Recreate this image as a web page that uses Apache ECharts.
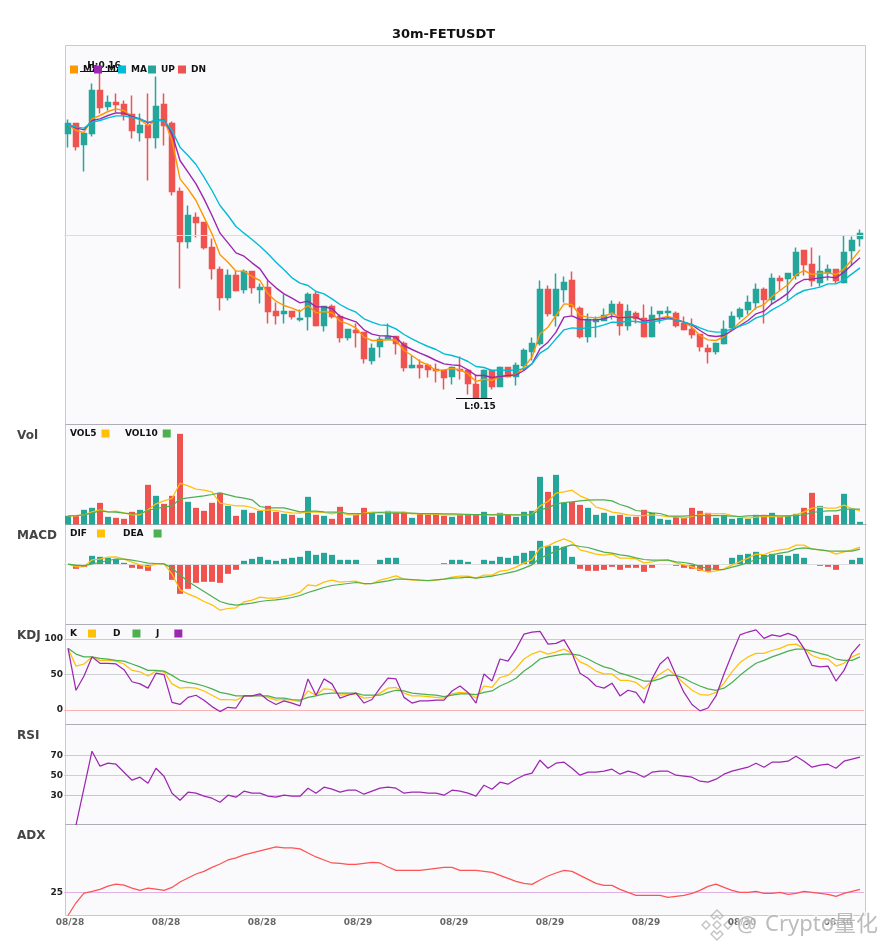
<!DOCTYPE html>
<html><head><meta charset="utf-8"><style>html,body{margin:0;padding:0;background:#fff}#c{width:885px;height:950px}</style>
<script src="https://cdn.jsdelivr.net/npm/echarts@6/dist/echarts.min.js"></script></head><body><div id="c"></div>
<script>
// prices in 1e-5 USDT
const opens=[15806,15836,15773,15806,15935,15887,15899,15893,15863,15809,15830,15794,15893,15836,15632,15482,15554,15539,15464,15398,15314,15380,15338,15392,15338,15344,15272,15266,15272,15248,15257,15323,15230,15287,15257,15194,15215,15209,15125,15167,15188,15197,15176,15104,15110,15110,15098,15095,15077,15098,15095,15053,15014,15095,15047,15104,15077,15110,15152,15176,15338,15260,15338,15365,15281,15197,15242,15245,15266,15293,15230,15266,15251,15197,15266,15269,15266,15236,15218,15203,15161,15152,15176,15224,15257,15278,15299,15338,15308,15371,15371,15380,15455,15413,15359,15389,15398,15359,15455,15491];
const closes=[15836,15767,15806,15935,15884,15899,15893,15863,15815,15830,15794,15887,15830,15632,15482,15560,15539,15464,15401,15314,15380,15335,15392,15344,15344,15272,15260,15272,15257,15251,15323,15230,15287,15257,15194,15218,15209,15131,15161,15188,15197,15176,15104,15110,15104,15098,15095,15074,15104,15095,15056,15014,15095,15047,15104,15077,15110,15155,15176,15338,15266,15338,15359,15287,15197,15248,15248,15260,15293,15230,15272,15251,15197,15260,15272,15272,15230,15218,15203,15167,15152,15176,15218,15257,15278,15299,15338,15308,15371,15365,15386,15449,15413,15365,15392,15398,15365,15449,15485,15506];
const highs=[15848,15836,15806,15956,15992,15920,15926,15905,15920,15866,15926,15977,15926,15842,15644,15590,15569,15539,15491,15407,15398,15395,15398,15392,15356,15365,15299,15323,15272,15278,15329,15332,15287,15293,15263,15218,15236,15209,15176,15197,15236,15197,15182,15140,15128,15116,15116,15095,15107,15137,15095,15083,15098,15098,15107,15104,15119,15161,15194,15365,15350,15386,15377,15392,15287,15266,15257,15281,15305,15302,15293,15272,15293,15287,15272,15287,15272,15257,15251,15203,15173,15179,15245,15272,15284,15320,15356,15344,15386,15380,15386,15464,15455,15464,15440,15413,15398,15500,15497,15518];
const lows=[15764,15755,15692,15797,15866,15875,15869,15845,15791,15782,15665,15761,15770,15620,15341,15461,15494,15458,15368,15275,15305,15332,15326,15326,15296,15236,15233,15236,15248,15242,15215,15227,15212,15251,15179,15185,15164,15116,15113,15134,15188,15143,15092,15101,15071,15074,15059,15038,15053,15068,15023,15011,15011,15038,15047,15074,15050,15095,15125,15170,15257,15227,15299,15260,15191,15179,15194,15245,15248,15200,15215,15236,15194,15194,15236,15254,15224,15215,15191,15152,15116,15143,15173,15221,15248,15263,15278,15236,15293,15335,15305,15368,15380,15347,15347,15365,15356,15356,15410,15467];
const ma5=[15833,15815,15809,15850,15860,15872,15880,15875,15857,15847,15830,15845,15847,15785,15670,15640,15605,15555,15505,15442,15420,15393,15393,15377,15365,15325,15303,15290,15282,15272,15290,15268,15272,15268,15243,15235,15223,15195,15185,15185,15188,15185,15155,15140,15122,15112,15095,15097,15101,15097,15085,15062,15069,15065,15077,15079,15083,15105,15135,15205,15225,15260,15295,15293,15260,15255,15253,15257,15268,15253,15255,15255,15243,15247,15253,15257,15250,15240,15225,15200,15187,15185,15197,15217,15240,15260,15283,15293,15317,15335,15353,15382,15395,15383,15387,15388,15383,15400,15427,15457];
const ma10=[15833,15823,15817,15845,15850,15860,15868,15867,15857,15850,15838,15845,15847,15805,15725,15690,15655,15610,15560,15507,15478,15448,15438,15418,15400,15365,15343,15325,15312,15298,15303,15286,15286,15281,15257,15249,15241,15217,15204,15199,15199,15195,15170,15158,15147,15137,15125,15115,15112,15110,15097,15080,15080,15074,15077,15080,15082,15095,15115,15160,15180,15210,15255,15259,15248,15247,15247,15250,15258,15253,15255,15255,15243,15247,15250,15253,15247,15240,15232,15215,15200,15197,15200,15215,15230,15245,15265,15273,15295,15310,15327,15355,15368,15369,15373,15376,15373,15390,15412,15433];
const ma20=[15833,15825,15822,15840,15845,15853,15859,15859,15854,15849,15840,15845,15845,15815,15765,15740,15713,15675,15635,15590,15560,15527,15507,15488,15468,15445,15420,15397,15373,15357,15350,15332,15325,15310,15293,15280,15270,15250,15240,15232,15230,15220,15203,15190,15178,15167,15158,15145,15140,15133,15122,15107,15104,15095,15097,15095,15097,15100,15115,15147,15162,15190,15217,15223,15221,15223,15225,15232,15240,15239,15243,15242,15239,15241,15245,15250,15247,15240,15233,15223,15214,15210,15211,15220,15228,15237,15253,15260,15277,15290,15305,15323,15335,15340,15345,15355,15355,15367,15385,15403];
const volumes=[26,26,44,50,65,23,20,17,38,44,119,86,62,86,272,68,50,41,65,95,56,26,44,35,41,56,38,32,29,20,83,29,26,17,53,20,29,50,35,29,41,35,38,20,32,29,29,26,23,29,32,29,38,23,35,29,23,38,41,143,98,149,65,68,59,50,29,35,26,29,23,23,44,35,17,14,23,20,50,41,35,20,29,17,20,17,29,29,35,23,26,32,50,95,56,26,29,92,47,8];
const vol5=[26,26,29,38,44,38,40,35,29,29,44,62,71,78,124,116,106,103,98,64,60,56,56,51,42,44,42,38,35,34,38,37,36,32,38,29,29,34,37,37,38,38,37,32,32,31,30,29,29,29,30,30,30,30,31,30,29,29,30,56,69,94,98,103,86,76,52,46,37,34,29,27,27,29,27,23,23,19,24,30,33,32,33,27,22,19,22,24,24,23,26,29,38,49,52,49,49,58,48,41];
const vol10=[26,27,29,34,41,38,37,34,32,33,42,48,52,56,76,80,83,86,90,95,89,83,79,74,54,50,50,50,44,38,40,40,38,37,37,33,33,33,34,36,34,35,34,34,33,33,33,32,32,31,30,30,30,29,29,29,29,29,30,44,50,62,66,68,71,73,74,74,71,60,53,42,39,35,33,26,25,25,27,27,27,27,26,25,24,26,27,27,27,26,26,27,29,36,39,41,41,46,46,46];
const macdHist=[-1,-14,-8,25,22,19,16,4,-11,-14,-20,1,0,-47,-89,-74,-56,-53,-53,-56,-29,-17,10,16,22,13,10,16,19,22,40,28,34,28,13,13,13,-2,0,13,19,19,0,-2,0,0,0,3,13,13,7,-2,13,10,22,19,25,34,40,70,55,55,52,22,-14,-20,-20,-17,-8,-17,-11,-11,-23,-11,-2,0,-5,-11,-14,-20,-23,-17,0,19,28,31,37,28,31,28,25,31,19,-2,-5,-8,-17,0,13,19];
const dif=[0,-8,-8,13,15,21,22,15,6,-2,-8,1,1,-29,-77,-89,-99,-112,-122,-138,-133,-131,-113,-108,-99,-102,-102,-97,-92,-84,-62,-65,-54,-48,-54,-52,-51,-59,-58,-48,-42,-35,-45,-48,-48,-50,-48,-45,-39,-36,-36,-42,-33,-33,-21,-18,-9,4,13,49,55,67,76,66,43,37,30,27,30,18,18,16,4,7,11,13,4,-2,-8,-17,-24,-20,-14,-2,8,18,30,29,38,43,46,57,57,45,43,40,30,37,43,51];
const dea=[0,-3,-5,1,5,11,15,15,12,8,3,2,1,-12,-32,-52,-67,-82,-97,-112,-119,-123,-120,-117,-112,-109,-107,-104,-100,-94,-85,-78,-70,-64,-61,-58,-55,-58,-58,-54,-50,-45,-45,-46,-48,-49,-47,-45,-42,-41,-39,-42,-39,-36,-31,-26,-21,-12,-2,18,28,40,51,58,53,50,43,36,33,28,25,19,14,12,12,12,7,5,1,-7,-13,-16,-16,-9,-3,5,14,21,28,33,37,46,49,46,43,40,39,39,39,45];
const kLine=[87,62,65,75,70,70,69,65,56,54,48,55,54,37,31,32,31,27,21,15,15,14,20,20,21,18,14,15,14,12,27,21,30,29,21,22,23,17,18,24,31,32,24,20,20,19,18,17,23,25,24,17,34,32,46,49,59,72,79,83,79,82,86,80,68,63,55,51,51,42,42,39,30,42,51,58,48,38,28,22,21,25,38,54,67,75,80,80,84,87,92,93,87,77,73,72,62,66,75,80];
const dLine=[87,79,75,75,73,72,70,69,65,61,56,56,55,49,42,39,37,34,30,25,23,20,20,20,20,20,17,17,15,14,18,20,23,24,24,24,24,21,21,21,25,28,27,24,23,22,21,19,21,23,23,22,25,27,34,39,45,55,63,72,75,77,79,79,77,72,66,61,58,52,49,45,41,41,44,49,49,45,39,34,30,28,31,39,49,58,66,70,75,79,83,86,86,83,80,77,72,70,70,75];
const jLine=[87,28,48,75,66,66,65,57,40,37,31,52,50,11,8,18,21,14,5,-2,4,3,20,20,23,14,8,13,10,6,44,21,44,37,17,21,24,10,15,31,45,44,18,10,13,13,14,14,27,34,25,10,51,41,72,69,86,107,110,111,93,94,99,80,52,45,34,31,38,20,28,25,10,44,65,75,49,25,8,-1,3,20,51,79,106,110,113,101,106,104,108,104,87,63,61,62,41,56,80,93];
const rsi=[null,0,37,74,59,62,61,53,45,48,42,57,49,32,25,33,32,29,27,23,30,28,34,32,32,29,28,30,29,29,37,32,38,36,33,35,35,31,34,37,38,37,32,33,33,32,32,30,35,34,32,29,40,36,43,41,46,50,52,65,57,62,63,57,50,53,53,54,56,51,54,52,48,53,54,54,50,49,48,44,43,46,51,54,56,58,62,58,63,63,64,69,64,58,60,61,57,64,66,68];
const adx=[11.2,18.8,24.6,25.6,26.8,28.8,30,29.4,27.6,26.2,27.6,27,26.2,28,31.2,33.6,36,37.6,40,42,44.4,45.6,47.4,48.6,49.8,51,52.2,51.6,51.6,51,48.6,46.2,44.4,42.6,42.4,41.8,41.8,42.4,43,42.6,40.2,38.2,38.2,38.2,38.2,38.8,39.4,40,40,38.2,38.2,38.2,37.6,37,35.2,33.4,31.6,30.4,29.8,32.4,34.8,36.6,38.2,37.6,35.2,32.8,30.4,29.2,29.2,26.8,25,23.2,23.2,23.2,23.2,22,22.6,23.2,24.4,26.2,28.6,30,28,26.2,25,25,25.6,24.4,24.4,25,23.8,24.4,25.6,25,24.4,23.8,22.6,24.4,25.6,26.8];
const tickLabels=['08/28','08/28','08/28','08/29','08/29','08/29','08/29','08/30','08/30'];
const priceGridLevels=[0.155];

const categories=opens.map((_,i)=>tickLabels[Math.floor(i/12)]);
const UP='#26a69a',DN='#ef5350';
const FONT='"DejaVu Sans"';
const px=v=>v/1e5;
const candle=opens.map((o,i)=>[px(o),px(closes[i]),px(lows[i]),px(highs[i])]);
const hiIdx=highs.indexOf(Math.max(...highs)), loIdx=lows.indexOf(Math.min(...lows));

const panels=[
 {name:'',top:45.5,h:379,min:0.14933,max:0.1607},
 {name:'Vol',top:424.5,h:100,min:0,max:300},
 {name:'MACD',top:524.5,h:100,min:-181,max:119},
 {name:'KDJ',top:624.5,h:100,min:-20.2,max:120.6,labels:[0,50,100]},
 {name:'RSI',top:724.5,h:100,min:0.7,max:100.7,labels:[30,50,70]},
 {name:'ADX',top:824.5,h:91,min:11.2,max:65.6,labels:[25]}
];
const L=64,W=800;
const grid=panels.map(p=>({left:L,width:W,top:p.top,height:p.h,show:false}));
const xAxis=panels.map((p,i)=>({type:'category',gridIndex:i,data:categories,
  axisLine:{show:false},axisTick:{show:false},splitLine:{show:false},
  axisLabel:i===5?{show:true,interval:11,color:'#666',fontFamily:FONT,fontSize:9,fontWeight:'bold',margin:3,padding:[0,0,0,4]}:{show:false}}));
const yAxis=panels.map((p,i)=>({type:'value',gridIndex:i,min:p.min,max:p.max,
  axisLine:{show:false},axisTick:{show:false},splitLine:{show:false},
  axisLabel:p.labels?{show:true,customValues:p.labels,color:'#222',fontFamily:FONT,fontSize:9,fontWeight:'bold',margin:1}:{show:false}}));

const line=(name,data,color,idx,extra,w)=>Object.assign({type:'line',name,data,xAxisIndex:idx,yAxisIndex:idx,
  showSymbol:false,symbol:'none',smooth:false,connectNulls:false,
  itemStyle:{color},lineStyle:{color,width:w||1.25},z:5,silent:true},extra||{});
const hlines=(arr)=>({silent:true,symbol:'none',animation:false,precision:5,label:{show:false},
  data:arr.map(([v,c])=>({yAxis:v,lineStyle:{color:c,width:1,type:'solid'}}))});

const series=[
 {type:'candlestick',name:'Kline',data:candle,xAxisIndex:0,yAxisIndex:0,barWidth:5,
  itemStyle:{color:UP,color0:DN,borderColor:UP,borderColor0:DN,borderColorDoji:UP,borderWidth:1.5},silent:true,
  markPoint:{silent:true,animation:false,data:[
   {coord:[hiIdx,px(highs[hiIdx])],symbol:'rect',symbolSize:[40,1],itemStyle:{color:'#111'},
    label:{show:true,formatter:'H:'+px(highs[hiIdx]).toFixed(2),position:'top',distance:1,offset:[4,0],color:'#111',fontFamily:FONT,fontSize:9,fontWeight:'bold'}},
   {coord:[loIdx,px(lows[loIdx])],symbol:'rect',symbolSize:[36,1],symbolOffset:[-2,0],itemStyle:{color:'#111'},
    label:{show:true,formatter:'L:'+px(lows[loIdx]).toFixed(2),position:'bottom',distance:3,offset:[6,0],color:'#111',fontFamily:FONT,fontSize:9,fontWeight:'bold'}}
  ]}},
 line('MA5',ma5.map(px),'#ff9800',0,{markLine:hlines(priceGridLevels.map(v=>[v,'#dddddf']))},1.4),
 line('MA10',ma10.map(px),'#9c27b0',0,null,1.4),
 line('MA20',ma20.map(px),'#00bcd4',0,null,1.4),
 line('UP',[],UP,0),
 line('DN',[],DN,0),
 {type:'bar',name:'Volume',xAxisIndex:1,yAxisIndex:1,barWidth:6,silent:true,
  data:volumes.map((v,i)=>({value:v,itemStyle:{color:closes[i]>=opens[i]?UP:DN}}))},
 line('VOL5',vol5,'#ffc107',1),
 line('VOL10',vol10,'#4caf50',1),
 {type:'bar',name:'Hist',xAxisIndex:2,yAxisIndex:2,barWidth:6,silent:true,
  data:macdHist.map(v=>({value:v,itemStyle:{color:v>=0?UP:DN}})),
  markLine:hlines([[0,'#dddddf']])},
 line('DIF',dif,'#ffc107',2),
 line('DEA',dea,'#4caf50',2),
 line('K',kLine,'#ffc107',3),
 line('D',dLine,'#4caf50',3),
 line('J',jLine,'#9c27b0',3,{markLine:hlines([[100,'#a8dcd8'],[50,'#d0d0d4'],[0,'#f8b4b4']])}),
 line('RSI',rsi,'#9c27b0',4,{markLine:hlines([[70,'#a8dcd8'],[50,'#d0d0d4'],[30,'#f8b4b4']])}),
 line('ADX',adx,'#ff5252',5,{markLine:hlines([[25,'#dfb3e6']])})
];

let lgZ=10;
const lg=(name,left,top,align,pad,clipW)=>({show:true,z:lgZ++,data:[{name,icon:'rect'}],left,top,orient:'horizontal',
  align:align||'left',padding:0,itemWidth:8,itemHeight:8,itemGap:0,selectedMode:false,
  textStyle:Object.assign({color:'#111',fontFamily:FONT,fontSize:9,fontWeight:'bold',padding:[0,pad||0,0,0]},
    clipW?{width:clipW,overflow:'truncate',ellipsis:''}:{})});
const legend=[
 lg('MA5',70,65,null,0,17),lg('MA10',94,65,null,0,17),lg('MA20',118,65,null,0,17),lg('UP',148,65),lg('DN',178,65),
 lg('VOL5',70,429,'right'),lg('VOL10',125,429,'right'),
 lg('DIF',70,529,'right',5),lg('DEA',123,529,'right',5),
 lg('K',70,629,'right',6),lg('D',113,629,'right',7),lg('J',156,629,'right',10)
];

const title=[{text:'30m-FETUSDT',left:443.5,top:28,textAlign:'center',padding:0,
  textStyle:{color:'#111',fontFamily:FONT,fontSize:13,fontWeight:'bold'}}]
 .concat(panels.filter(p=>p.name).map(p=>({text:p.name,left:17,top:p.top+5,padding:0,
  textStyle:{color:'#444',fontFamily:FONT,fontSize:12,fontWeight:'bold'}})));

const PL=65.5,PR=865.5;
const WM='rgba(175,175,175,.75)';
const logoStyle={fill:'none',stroke:WM,lineWidth:1.4};
const graphic={elements:[
 ...panels.map((p,i)=>({type:'rect',z:-2,silent:true,shape:{x:PL,y:p.top,width:PR-PL,height:p.h},
   style:{fill:'#fafafd',stroke:'#c9c9d1',lineWidth:1}})),
 ...panels.slice(1).map(p=>({type:'line',z:-1,silent:true,shape:{x1:PL,y1:p.top,x2:PR+1,y2:p.top},
   style:{stroke:'#aeaeb6',lineWidth:1}})),
 // watermark
 {type:'group',z:50,silent:true,x:717,y:925,children:[
   {type:'polygon',shape:{points:[[0,-15],[6,-9],[3,-6],[0,-9],[-3,-6],[-6,-9]]},style:logoStyle},
   {type:'polygon',shape:{points:[[0,15],[6,9],[3,6],[0,9],[-3,6],[-6,9]]},style:logoStyle},
   {type:'polygon',shape:{points:[[-11,-4],[-7,0],[-11,4],[-15,0]]},style:logoStyle},
   {type:'polygon',shape:{points:[[11,-4],[15,0],[11,4],[7,0]]},style:logoStyle},
   {type:'polygon',shape:{points:[[0,-4],[4,0],[0,4],[-4,0]]},style:logoStyle}
 ]},
 {type:'text',z:50,silent:true,x:737,y:915,style:{text:'@',fill:'rgba(165,165,165,.75)',stroke:'rgba(255,255,255,.55)',lineWidth:3,fontFamily:'"Noto Sans"',fontSize:22}},
 {type:'text',z:50,silent:true,x:765,y:914,style:{text:'Crypto量化',fill:'rgba(165,165,165,.75)',stroke:'rgba(255,255,255,.55)',lineWidth:3,fontFamily:'"Noto Sans","Noto Sans CJK SC"',fontSize:22}}
]};

const chart=echarts.init(document.getElementById('c'),null,{renderer:'canvas',width:885,height:950});
chart.setOption({animation:false,backgroundColor:'#fff',title,legend,grid,xAxis,yAxis,series,graphic,tooltip:{show:false}});
</script></body></html>
